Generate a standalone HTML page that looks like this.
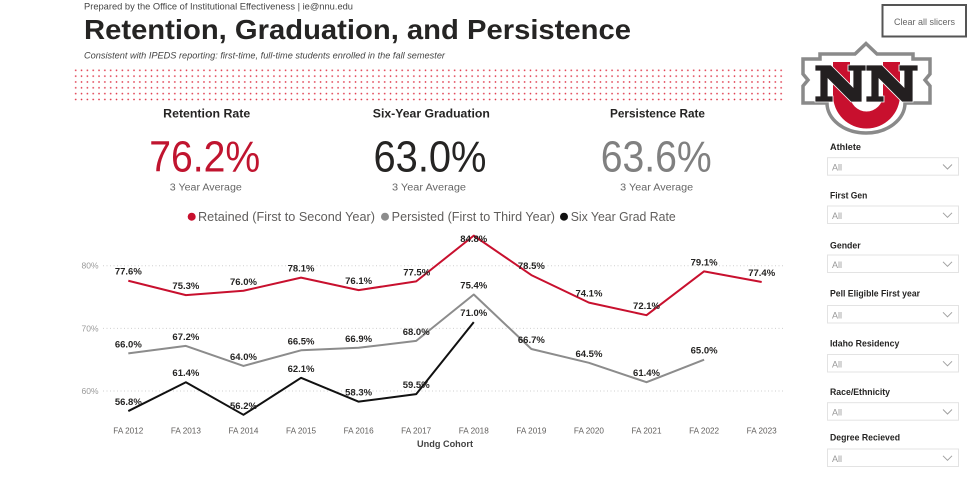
<!DOCTYPE html>
<html>
<head>
<meta charset="utf-8">
<style>
html,body{margin:0;padding:0;background:#fff;}
svg{display:block;}
text{font-family:"Liberation Sans",Arial,sans-serif;}
</style>
</head>
<body>
<svg width="980" height="494" viewBox="0 0 980 494" xmlns="http://www.w3.org/2000/svg">
<defs>
<pattern id="dots" x="72.8" y="67.4" width="5.83" height="5.83" patternUnits="userSpaceOnUse">
<circle cx="2.915" cy="2.915" r="0.85" fill="#de2f42"/>
</pattern>
</defs>
<rect width="980" height="494" fill="#fff"/>

<!-- Header -->
<text x="84" y="9.5" font-size="9.2" fill="#444" textLength="269" lengthAdjust="spacingAndGlyphs">Prepared by the Office of Institutional Effectiveness | ie@nnu.edu</text>
<text x="84" y="39" font-size="28" font-weight="bold" fill="#252423" textLength="547" lengthAdjust="spacingAndGlyphs">Retention, Graduation, and Persistence</text>
<text x="84" y="58.3" font-size="9" font-style="italic" fill="#444" textLength="361" lengthAdjust="spacingAndGlyphs">Consistent with IPEDS reporting: first-time, full-time students enrolled in the fall semester</text>

<!-- dotted band -->
<rect x="73" y="67.5" width="712.5" height="35" fill="url(#dots)"/>

<!-- KPI cards -->
<text x="206.7" y="117.3" font-size="12" font-weight="bold" fill="#252423" text-anchor="middle" textLength="87" lengthAdjust="spacingAndGlyphs">Retention Rate</text>
<text x="431.3" y="117.3" font-size="12" font-weight="bold" fill="#252423" text-anchor="middle" textLength="117" lengthAdjust="spacingAndGlyphs">Six-Year Graduation</text>
<text x="657.5" y="117.3" font-size="12" font-weight="bold" fill="#252423" text-anchor="middle" textLength="95" lengthAdjust="spacingAndGlyphs">Persistence Rate</text>

<text x="204.7" y="171.7" font-size="44" fill="#c0142f" text-anchor="middle" textLength="111" lengthAdjust="spacingAndGlyphs">76.2%</text>
<text x="430" y="171.7" font-size="44" fill="#252423" text-anchor="middle" textLength="113" lengthAdjust="spacingAndGlyphs">63.0%</text>
<text x="656.2" y="171.7" font-size="44" fill="#808080" text-anchor="middle" textLength="111" lengthAdjust="spacingAndGlyphs">63.6%</text>

<text x="205.8" y="190.5" font-size="10" fill="#666" text-anchor="middle" textLength="72" lengthAdjust="spacingAndGlyphs">3 Year Average</text>
<text x="429" y="190.5" font-size="10" fill="#666" text-anchor="middle" textLength="74" lengthAdjust="spacingAndGlyphs">3 Year Average</text>
<text x="656.7" y="190.5" font-size="10" fill="#666" text-anchor="middle" textLength="73" lengthAdjust="spacingAndGlyphs">3 Year Average</text>

<!-- Legend -->
<circle cx="191.7" cy="216.7" r="4" fill="#c8102e"/>
<text x="198" y="221" font-size="12.5" fill="#605e5c" textLength="177" lengthAdjust="spacingAndGlyphs">Retained (First to Second Year)</text>
<circle cx="385" cy="216.7" r="4" fill="#8c8c8c"/>
<text x="391.7" y="221" font-size="12.5" fill="#605e5c" textLength="163.3" lengthAdjust="spacingAndGlyphs">Persisted (First to Third Year)</text>
<circle cx="564" cy="216.7" r="4" fill="#111"/>
<text x="570.7" y="221" font-size="12.5" fill="#605e5c" textLength="105" lengthAdjust="spacingAndGlyphs">Six Year Grad Rate</text>

<!-- Gridlines -->
<g stroke="#cfcfcf" stroke-width="1" stroke-dasharray="1 2.5">
<line x1="103" y1="265.7" x2="785" y2="265.7"/>
<line x1="103" y1="328.35" x2="785" y2="328.35"/>
<line x1="103" y1="391" x2="785" y2="391"/>
</g>
<g font-size="8.5" fill="#999" text-anchor="end">
<text x="98.5" y="268.7">80%</text>
<text x="98.5" y="331.4">70%</text>
<text x="98.5" y="394">60%</text>
</g>

<!-- Series -->
<polyline fill="none" stroke="#c8102e" stroke-width="2" stroke-linejoin="round" points="128.3,280.74 185.88,295.15 243.46,290.76 301.04,277.6 358.62,290.13 416.2,281.36 473.78,235.63 531.36,275.1 588.94,302.66 646.52,315.19 704.1,271.34 761.68,281.99"/>
<polyline fill="none" stroke="#8c8c8c" stroke-width="2" stroke-linejoin="round" points="128.3,353.41 185.88,345.89 243.46,365.94 301.04,350.28 358.62,347.77 416.2,340.88 473.78,294.52 531.36,349.02 588.94,362.81 646.52,382.23 704.1,359.68"/>
<polyline fill="none" stroke="#111" stroke-width="2" stroke-linejoin="round" points="128.3,411.05 185.88,382.23 243.46,414.81 301.04,377.84 358.62,401.65 416.2,394.13 473.78,322.08"/>

<!-- Data labels -->
<g font-size="9.5" font-weight="bold" fill="#252423" text-anchor="middle">
<text x="128.3" y="274.7">77.6%</text>
<text x="185.88" y="289.1">75.3%</text>
<text x="243.46" y="284.8">76.0%</text>
<text x="301.04" y="271.6">78.1%</text>
<text x="358.62" y="284.1">76.1%</text>
<text x="416.7" y="275.4">77.5%</text>
<text x="473.78" y="241.8">84.8%</text>
<text x="531.36" y="269.1">78.5%</text>
<text x="588.94" y="296.7">74.1%</text>
<text x="646.52" y="309.2">72.1%</text>
<text x="704.1" y="265.3">79.1%</text>
<text x="761.68" y="276">77.4%</text>

<text x="128.3" y="347.4">66.0%</text>
<text x="185.88" y="339.9">67.2%</text>
<text x="243.46" y="359.9">64.0%</text>
<text x="301.04" y="344.3">66.5%</text>
<text x="358.62" y="341.8">66.9%</text>
<text x="416.2" y="334.9">68.0%</text>
<text x="473.78" y="288.5">75.4%</text>
<text x="531.36" y="343">66.7%</text>
<text x="588.94" y="356.8">64.5%</text>
<text x="646.52" y="376.2">61.4%</text>
<text x="704.1" y="353.7">65.0%</text>

<text x="128.3" y="405">56.8%</text>
<text x="185.88" y="376.2">61.4%</text>
<text x="243.46" y="408.8">56.2%</text>
<text x="301.04" y="371.8">62.1%</text>
<text x="358.62" y="395.6">58.3%</text>
<text x="416.2" y="388.1">59.5%</text>
<text x="473.78" y="316">71.0%</text>
</g>

<!-- X axis -->
<g font-size="8" fill="#605e5c" text-anchor="middle">
<text x="128.3" y="433.3" textLength="30" lengthAdjust="spacingAndGlyphs">FA 2012</text>
<text x="185.88" y="433.3" textLength="30" lengthAdjust="spacingAndGlyphs">FA 2013</text>
<text x="243.46" y="433.3" textLength="30" lengthAdjust="spacingAndGlyphs">FA 2014</text>
<text x="301.04" y="433.3" textLength="30" lengthAdjust="spacingAndGlyphs">FA 2015</text>
<text x="358.62" y="433.3" textLength="30" lengthAdjust="spacingAndGlyphs">FA 2016</text>
<text x="416.2" y="433.3" textLength="30" lengthAdjust="spacingAndGlyphs">FA 2017</text>
<text x="473.78" y="433.3" textLength="30" lengthAdjust="spacingAndGlyphs">FA 2018</text>
<text x="531.36" y="433.3" textLength="30" lengthAdjust="spacingAndGlyphs">FA 2019</text>
<text x="588.94" y="433.3" textLength="30" lengthAdjust="spacingAndGlyphs">FA 2020</text>
<text x="646.52" y="433.3" textLength="30" lengthAdjust="spacingAndGlyphs">FA 2021</text>
<text x="704.1" y="433.3" textLength="30" lengthAdjust="spacingAndGlyphs">FA 2022</text>
<text x="761.68" y="433.3" textLength="30" lengthAdjust="spacingAndGlyphs">FA 2023</text>
</g>
<text x="417" y="447" font-size="9" font-weight="bold" fill="#444" textLength="56" lengthAdjust="spacingAndGlyphs">Undg Cohort</text>

<!-- Clear all slicers -->
<rect x="882.5" y="5" width="83.5" height="31.5" fill="#fff" stroke="#555" stroke-width="2"/>
<text x="924.5" y="25" font-size="9.5" fill="#666" text-anchor="middle" textLength="61" lengthAdjust="spacingAndGlyphs">Clear all slicers</text>

<!-- Logo -->
<path d="M803,59 L820,59 L820,54 L855,54 L866,43.5 L877,54 L913,54 L913,59 L930,59 L930,74 L925,80 L930,86 L930,103 L905,103 A39,30 0 0 1 827,103 L803,103 L803,86 L808,80 L803,74 Z" fill="#fff" stroke="#8a8a8a" stroke-width="3.5" stroke-linejoin="miter"/>
<path d="M833,62 L850,62 L850,95 A16.5,16.5 0 0 0 883,95 L883,62 L900,62 L900,95 A33.5,33.5 0 0 1 833,95 Z" fill="#c8102e"/>
<g fill="#231f20" stroke="#fff" stroke-width="0.8">
<polygon points="815,65 831,65 853,87 853,71 848,71 848,65 867,65 867,71 862,71 862,102 851,102 828,79 828,96 833,96 833,102 815,102 815,96 820,96 820,71 815,71"/>
<polygon points="866,65 882,65 904,87 904,71 899,71 899,65 918,65 918,71 913,71 913,102 902,102 879,79 879,96 884,96 884,102 866,102 866,96 871,96 871,71 866,71"/>
</g>

<!-- Slicers -->
<g font-size="9.5" font-weight="bold" fill="#252423">
<text x="830" y="150" textLength="31" lengthAdjust="spacingAndGlyphs">Athlete</text>
<text x="830" y="198.3" textLength="37.3" lengthAdjust="spacingAndGlyphs">First Gen</text>
<text x="830" y="248.3" textLength="30.7" lengthAdjust="spacingAndGlyphs">Gender</text>
<text x="830" y="296.7" textLength="90" lengthAdjust="spacingAndGlyphs">Pell Eligible First year</text>
<text x="830" y="346.7" textLength="69.3" lengthAdjust="spacingAndGlyphs">Idaho Residency</text>
<text x="830" y="395" textLength="60" lengthAdjust="spacingAndGlyphs">Race/Ethnicity</text>
<text x="830" y="440.7" textLength="70" lengthAdjust="spacingAndGlyphs">Degree Recieved</text>
</g>
<g fill="#fff" stroke="#e3e3e3" stroke-width="1">
<rect x="827.5" y="157.7" width="131" height="17.5"/>
<rect x="827.5" y="206" width="131" height="17.5"/>
<rect x="827.5" y="255" width="131" height="17.5"/>
<rect x="827.5" y="305.5" width="131" height="17.5"/>
<rect x="827.5" y="354.5" width="131" height="17.5"/>
<rect x="827.5" y="402.7" width="131" height="17.5"/>
<rect x="827.5" y="449" width="131" height="17.5"/>
</g>
<g font-size="9" fill="#999">
<text x="832" y="170.5">All</text>
<text x="832" y="218.8">All</text>
<text x="832" y="267.8">All</text>
<text x="832" y="318.3">All</text>
<text x="832" y="367.3">All</text>
<text x="832" y="415.5">All</text>
<text x="832" y="461.8">All</text>
</g>
<g fill="none" stroke="#a0a0a0" stroke-width="1">
<polyline points="943,164.5 947.5,169 952,164.5"/>
<polyline points="943,212.8 947.5,217.3 952,212.8"/>
<polyline points="943,261.8 947.5,266.3 952,261.8"/>
<polyline points="943,312.3 947.5,316.8 952,312.3"/>
<polyline points="943,361.3 947.5,365.8 952,361.3"/>
<polyline points="943,409.5 947.5,414 952,409.5"/>
<polyline points="943,455.8 947.5,460.3 952,455.8"/>
</g>
</svg>
</body>
</html>
